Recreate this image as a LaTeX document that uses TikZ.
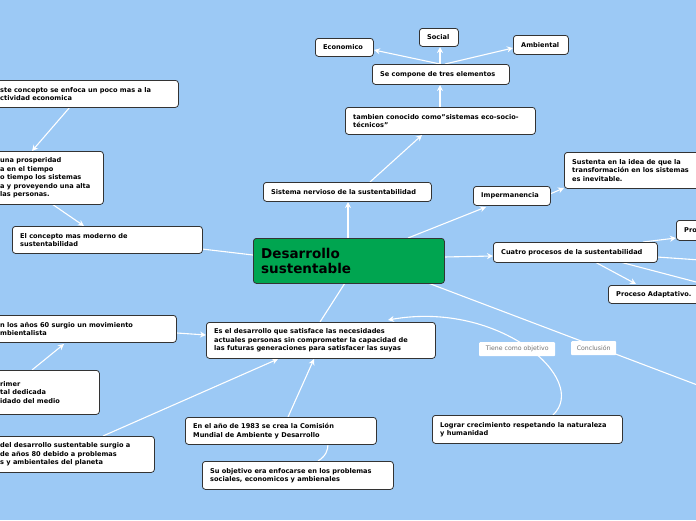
\documentclass[tikz,border=0pt]{standalone}
\usepackage{fontspec}
\setmainfont{DejaVu Sans}
\usetikzlibrary{arrows.meta,calc}
\definecolor{bg}{HTML}{9CC9F5}
\definecolor{cgreen}{HTML}{00A550}
\tikzset{
  box/.style={draw=black!80, line width=0.8pt, rounded corners=3pt, fill=white, anchor=north west, inner sep=0pt},
  txt/.style={align=left, inner sep=0pt, font=\bfseries\fontsize{6.6}{8.4}\selectfont},
  lbl/.style={fill=white, rounded corners=1pt, inner sep=0pt, anchor=north west, text=black!55, font=\fontsize{6.2}{7}\selectfont},
  con/.style={draw=white, line width=1.1pt},
  arr/.style={con, -{Stealth[length=6pt,width=6pt]}},
}
\newcommand{\bx}[6]{%
  \pgfmathsetmacro{\ww}{#4-#2}\pgfmathsetmacro{\hh}{#5-#3}%
  \node[box, minimum width=\ww pt, minimum height=\hh pt] (#1) at (#2pt,-#3pt) {};
  \node[txt, anchor=west] at ($(#1.west)+(8pt,0)$) {#6};}
\newcommand{\bxl}[6]{%
  \pgfmathsetmacro{\ww}{#4-#2}\pgfmathsetmacro{\hh}{#5-#3}%
  \node[box, minimum width=\ww pt, minimum height=\hh pt] (#1) at (#2pt,-#3pt) {};
  \node[txt, anchor=west] at ($(#1.west)+(20pt,0)$) {#6};}
\begin{document}
\begin{tikzpicture}
\useasboundingbox (0,0) rectangle (696pt,-520pt);
\clip (0,0) rectangle (696pt,-520pt);
\fill[bg] (0,0) rectangle (696pt,-520pt);
% edges
\draw[arr] (348pt,-238pt) -- (348pt,-202pt);
\draw[arr] (370pt,-182pt) -- (422pt,-135pt);
\draw[arr] (440pt,-107pt) -- (440pt,-85pt);
\draw[arr] (440pt,-64pt) -- (440pt,-47pt);
\draw[arr] (440pt,-64pt) -- (374pt,-50pt);
\draw[arr] (445pt,-64pt) -- (513pt,-48pt);
\draw[arr] (408pt,-238pt) -- (486pt,-207pt);
\draw[arr] (550pt,-194pt) -- (564pt,-188pt);
\draw[arr] (444pt,-257pt) -- (493pt,-256pt);
\draw[arr] (643pt,-242pt) -- (676pt,-238pt);
\draw[arr] (595pt,-262pt) -- (636pt,-284pt);
\draw[con] (657pt,-257pt) -- (700pt,-260pt);
\draw[con] (620pt,-262pt) -- (700pt,-283pt);
\draw[con] (428pt,-283pt) -- (700pt,-386pt);
\draw[arr] (553pt,-415pt) .. controls (590pt,-380pt) and (500pt,-300pt) .. (388pt,-320pt);
\draw[con] (345pt,-283pt) -- (320pt,-322pt);
\draw[arr] (288pt,-417pt) -- (314pt,-359pt);
\draw[con] (318pt,-461pt) .. controls (326pt,-456pt) and (328pt,-450pt) .. (328pt,-444pt);
\draw[arr] (103pt,-436pt) -- (278pt,-359pt);
\draw[arr] (177pt,-333pt) -- (206pt,-335pt);
\draw[arr] (32pt,-370pt) -- (64pt,-344pt);
\draw[con] (202pt,-249pt) -- (253pt,-255pt);
\draw[arr] (52pt,-204pt) -- (84pt,-226pt);
\draw[arr] (70pt,-107pt) -- (32pt,-151pt);
% nodes
\node[box, fill=cgreen, minimum width=191pt, minimum height=45pt] (c) at (253pt,-238pt) {};
\node[txt, anchor=west, font=\bfseries\fontsize{13.5}{15.5}\selectfont] at ($(c.west)+(8pt,0)$) {Desarrollo\\sustentable};
\bx{s}{263}{182}{431}{201}{Sistema nervioso de la sustentabilidad}
\bx{t}{345}{107}{535}{134}{tambien conocido como"sistemas eco-socio-\\técnicos"}
\bx{sc}{372}{64}{509}{84}{Se compone de tres elementos}
\bx{ec}{315}{38}{373}{56}{Economico}
\bx{so}{419}{28}{458}{46}{Social}
\bx{am}{513}{35}{568}{54}{Ambiental}
\bx{im}{473}{186}{550}{205}{Impermanencia}
\bx{su}{564}{152}{705}{188}{Sustenta en la idea de que la\\transformación en los sistemas\\es inevitable.}
\bx{cu}{493}{242}{657}{262}{Cuatro procesos de la sustentabilidad}
\bx{pr}{676}{220}{720}{240}{Pro}
\bx{pa}{608}{285}{705}{303}{Proceso Adaptativo.}
\bx{lo}{432}{415}{622}{443}{Lograr crecimiento respetando la naturaleza\\y humanidad}
\node[lbl, minimum width=76pt, minimum height=14pt] (tl) at (479pt,-342pt) {Tiene como objetivo};
\node[lbl, minimum width=45pt, minimum height=14pt] (cl) at (571pt,-341pt) {Conclusión};
\bx{es}{206}{322}{435}{358}{Es el desarrollo que satisface las necesidades\\actuales personas sin comprometer la capacidad de\\las futuras generaciones para satisfacer las suyas}
\bx{en}{185}{417}{376}{444}{En el año de 1983 se crea la Comisión\\Mundial de Ambiente y Desarrollo}
\bx{ob}{202}{461}{393}{489}{Su objetivo era enfocarse en los problemas\\sociales, economicos y ambienales}
\bxl{or}{-20}{436}{154}{472}{del desarrollo sustentable surgio a\\de años 80 debido a problemas\\s y ambientales del planeta}
\bxl{pm}{-20}{370}{99}{414}{rimer\\tal dedicada\\idado del medio}
\bxl{a6}{-20}{315}{176}{342}{n los años 60 surgio un movimiento\\mbientalista}
\bx{cm}{12}{226}{202}{253}{El concepto mas moderno de\\sustentabilidad}
\bxl{up}{-20}{151}{103}{204}{una prosperidad\\a en el tiempo\\o tiempo los sistemas\\a y proveyendo una alta\\ las personas.}
\bxl{ec2}{-20}{80}{178}{107}{ste concepto se enfoca un poco mas a la\\ctividad economica}
\end{tikzpicture}
\end{document}
